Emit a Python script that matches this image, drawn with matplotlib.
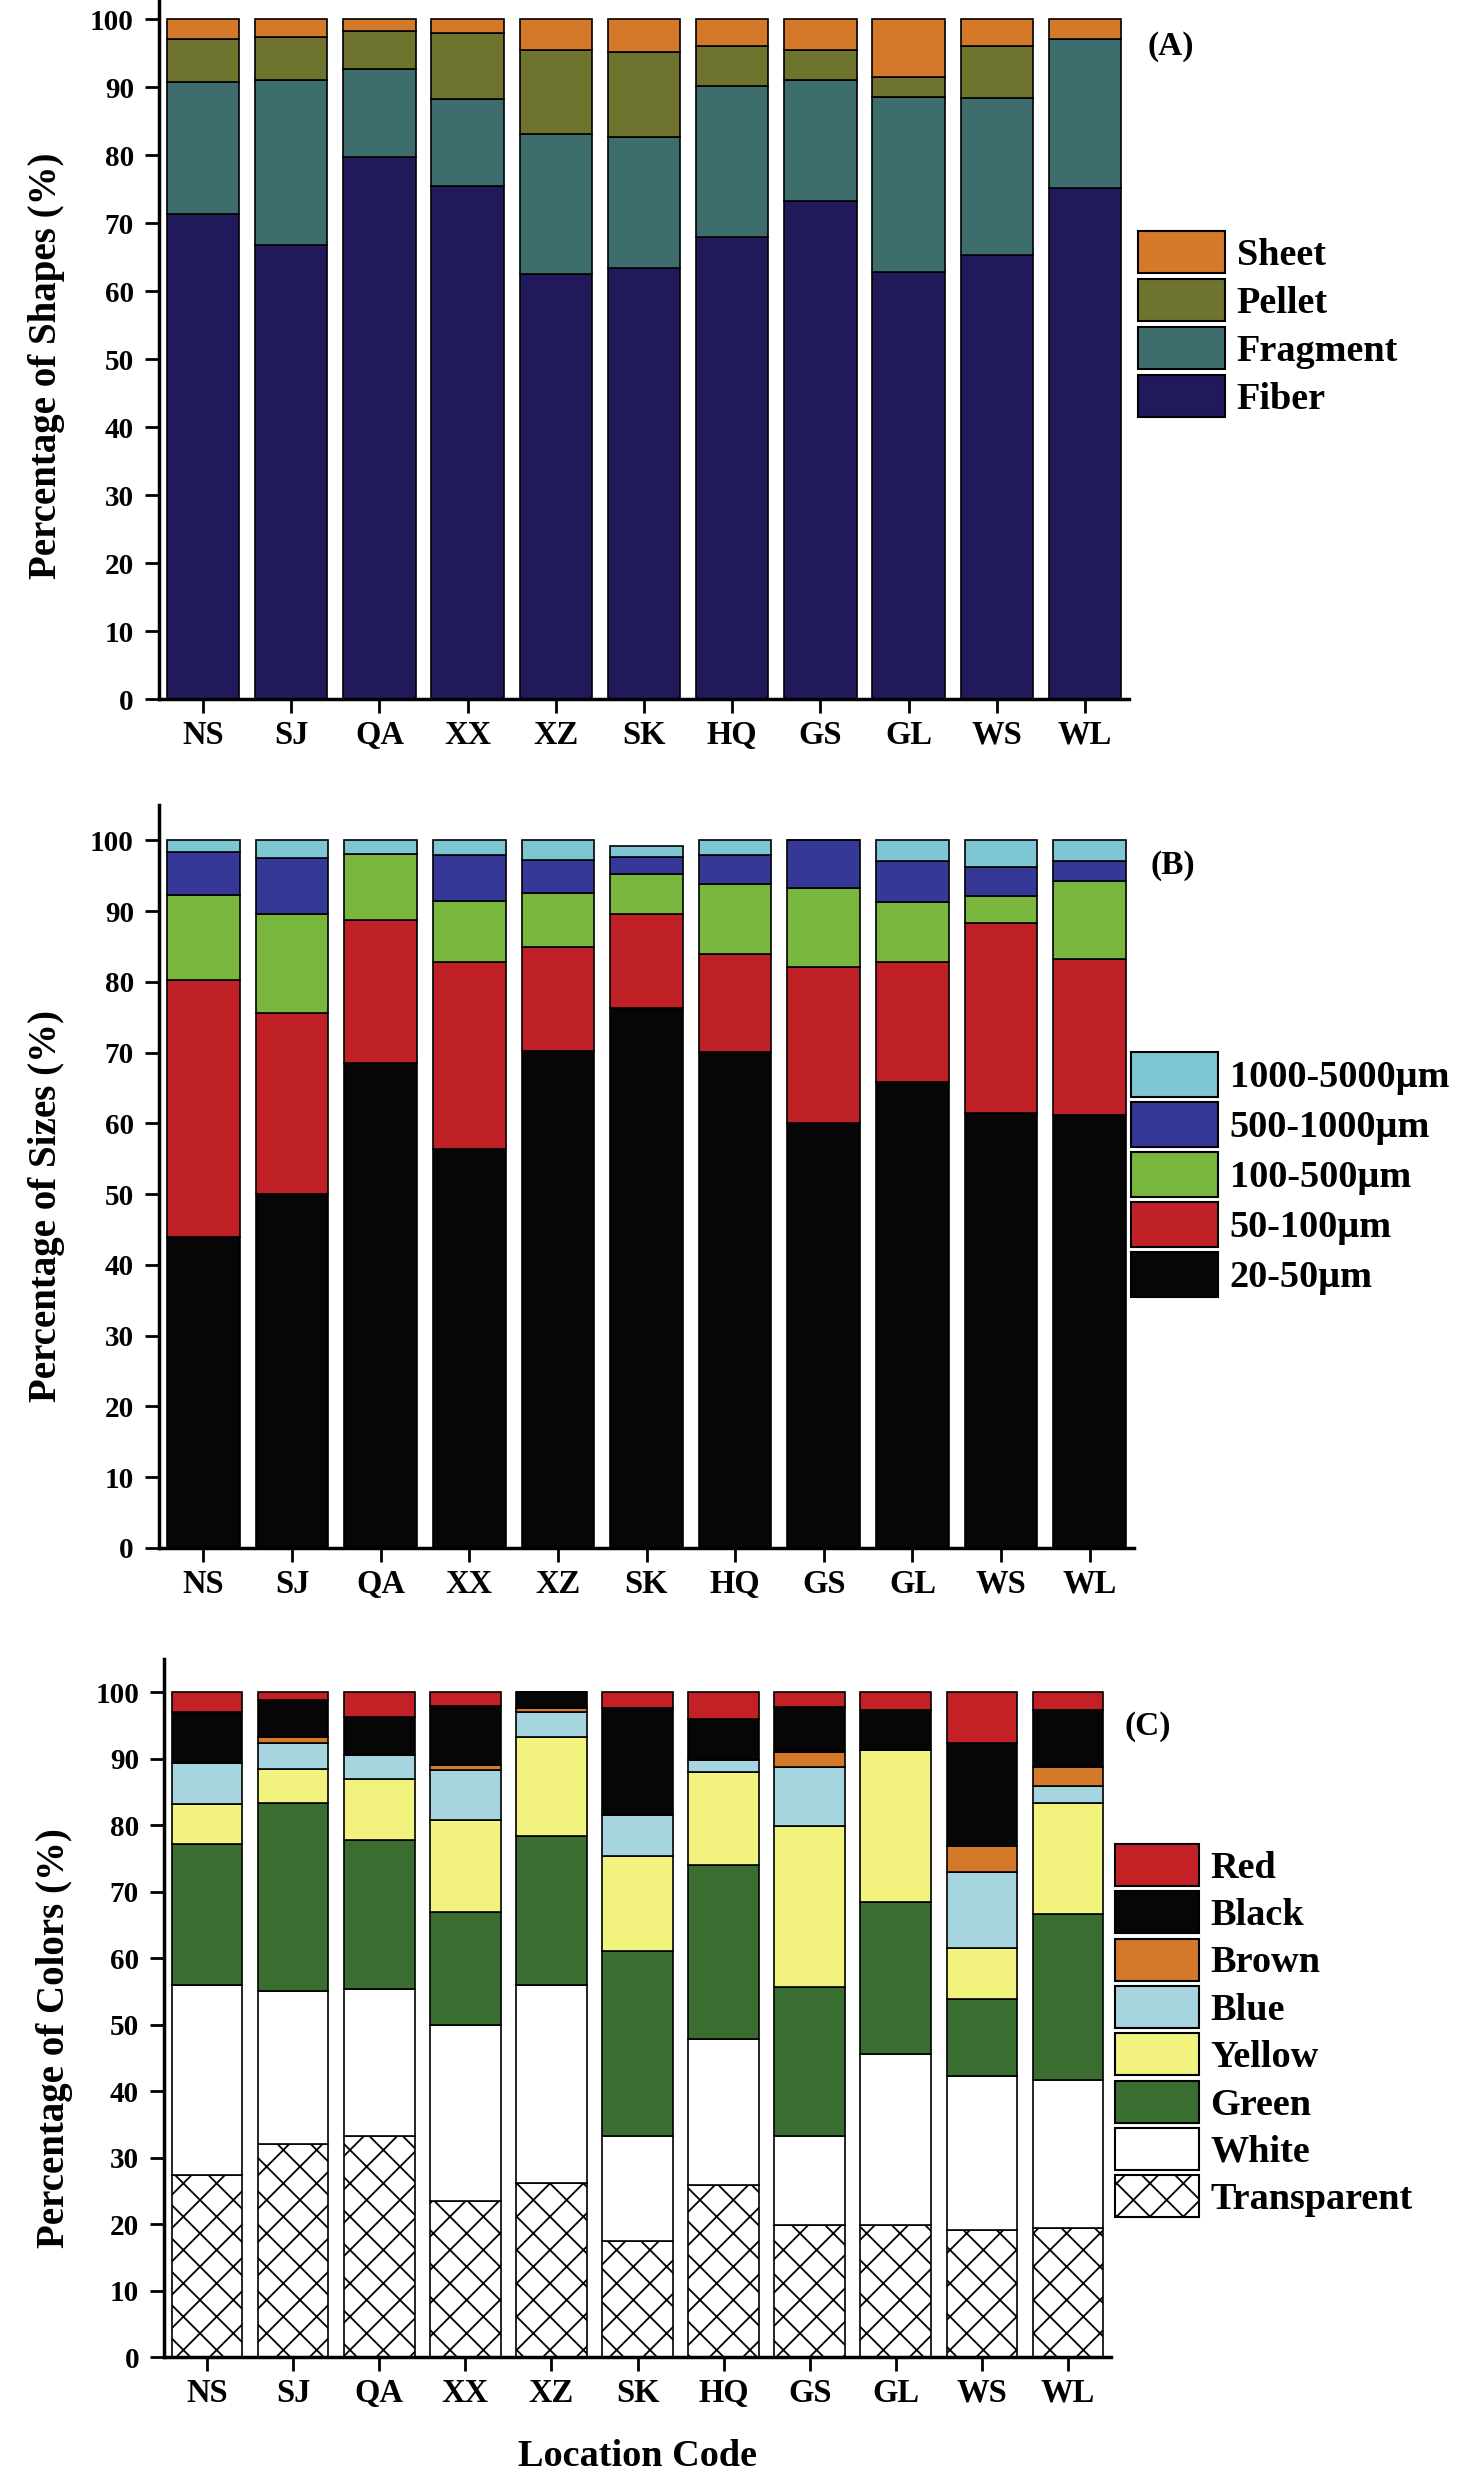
import matplotlib
matplotlib.use('Agg')
import matplotlib.pyplot as plt
from matplotlib.patches import Patch
import numpy as np

plt.rcParams['font.family'] = ['Liberation Serif', 'DejaVu Serif']
plt.rcParams['font.weight'] = 'bold'
plt.rcParams['hatch.linewidth'] = 1.3

sites = ['NS', 'SJ', 'QA', 'XX', 'XZ', 'SK', 'HQ', 'GS', 'GL', 'WS', 'WL']

# (A) shapes, bottom to top
shape_names = ['Fiber', 'Fragment', 'Pellet', 'Sheet']
fiber = [71.3, 66.7, 79.7, 75.5, 62.5, 63.4, 68.0, 73.3, 62.8, 65.3, 75.1]
fragment = [19.5, 24.3, 12.9, 12.8, 20.6, 19.2, 22.1, 17.8, 25.7, 23.1, 22.0]
pellet = [6.2, 6.4, 5.6, 9.6, 12.3, 12.6, 6.0, 4.4, 2.9, 7.7, 0.0]
sheet = [3.0, 2.6, 1.8, 2.1, 4.6, 4.8, 3.9, 4.5, 8.6, 3.9, 2.9]
shape_colors = ['#211a5a', '#3d6e6d', '#6e742d', '#d4782a']

# (B) sizes, bottom to top
size_names = ['20-50µm', '50-100µm', '100-500µm', '500-1000µm', '1000-5000µm']
s20_50 = [44.0, 50.0, 68.6, 56.4, 70.2, 76.3, 70.1, 60.1, 65.8, 61.5, 61.2]
s50_100 = [36.2, 25.6, 20.2, 26.4, 14.8, 13.3, 13.8, 22.0, 17.0, 26.8, 22.1]
s100_500 = [12.1, 14.0, 9.3, 8.6, 7.5, 5.6, 10.0, 11.2, 8.5, 3.9, 11.0]
s500_1000 = [6.1, 7.9, 0.0, 6.5, 4.7, 2.4, 4.1, 6.7, 5.8, 4.0, 2.8]
s1000_5000 = [1.6, 2.5, 1.9, 2.1, 2.8, 1.6, 2.0, 0.0, 2.9, 3.8, 2.9]
size_colors = ['#060606', '#c02126', '#78b63e', '#353896', '#7fc6d5']

# (C) colours, bottom to top
color_names = ['Transparent', 'White', 'Green', 'Yellow', 'Blue', 'Brown', 'Black', 'Red']
transparent = [27.4, 32.1, 33.3, 23.4, 26.2, 17.4, 25.9, 19.9, 19.9, 19.1, 19.4]
white = [28.5, 22.9, 22.1, 26.6, 29.8, 15.8, 22.0, 13.3, 25.7, 23.1, 22.2]
green = [21.3, 28.3, 22.4, 17.0, 22.4, 27.9, 26.1, 22.4, 22.9, 11.6, 25.1]
yellow = [6.0, 5.1, 9.1, 13.8, 14.9, 14.2, 14.0, 24.3, 22.8, 7.7, 16.6]
blue = [6.1, 3.9, 3.7, 7.5, 3.8, 6.3, 1.8, 8.9, 0.0, 11.5, 2.6]
brown = [0.0, 1.0, 0.0, 0.8, 0.6, 0.0, 0.0, 2.2, 0.0, 3.8, 2.9]
black = [7.8, 5.5, 5.7, 8.9, 2.3, 16.1, 6.2, 6.8, 6.0, 15.5, 8.5]
red = [2.9, 1.2, 3.7, 2.0, 0.0, 2.3, 4.0, 2.2, 2.7, 7.7, 2.7]
color_fills = ['white', 'white', '#3a6e30', '#f2f27e', '#a6d5e0', '#d4782a', '#060606', '#c42126']
color_hatches = ['x', None, None, None, None, None, None, None]

fig = plt.figure(figsize=(14.75, 24.81), dpi=100)
W, H = 1475.0, 2481.0


def make_axes(left, right, y0, y105):
    return fig.add_axes([left / W, 1 - y0 / H, (right - left) / W, (y0 - y105) / H])


def stacked(ax, layers, names, colors, hatches=None):
    x = np.arange(len(sites))
    bottom = np.zeros(len(sites))
    handles = []
    for i, (vals, name, col) in enumerate(zip(layers, names, colors)):
        h = hatches[i] if hatches else None
        ax.bar(x, vals, 0.82, bottom=bottom, color=col, edgecolor='black',
               linewidth=1.2, hatch=h)
        bottom += np.array(vals)
        handles.append(Patch(facecolor=col, edgecolor='black', linewidth=1.5, hatch=h, label=name))
    ax.set_xlim(-0.5, 10.5)
    ax.set_ylim(0, 105)
    ax.set_yticks(range(0, 101, 10))
    ax.set_xticks(x)
    ax.set_xticklabels(sites, fontsize=23.5, fontweight='bold')
    for lab in ax.get_yticklabels():
        lab.set_fontsize(21)
        lab.set_fontweight('bold')
    ax.tick_params(axis='both', direction='out', length=10, width=2)
    ax.tick_params(axis='x', pad=5)
    ax.tick_params(axis='y', pad=8)
    for s in ['top', 'right']:
        ax.spines[s].set_visible(False)
    for s in ['left', 'bottom']:
        ax.spines[s].set_linewidth(2.5)
    return handles[::-1]


def add_legend(ax, handles, x, y, hl, hh, ls):
    ax.legend(handles=handles, loc='upper left', bbox_to_anchor=(x / W, 1 - y / H),
              bbox_transform=fig.transFigure, frameon=False, borderpad=0,
              borderaxespad=0, handlelength=hl, handleheight=hh, labelspacing=ls,
              handletextpad=0.3, prop={'size': 27.5, 'weight': 'bold'})


axA = make_axes(159, 1129, 699, -15)
hA = stacked(axA, [fiber, fragment, pellet, sheet], shape_names, shape_colors)
add_legend(axA, hA, 1138, 231, 2.28, 1.315, 0.16)

axB = make_axes(159, 1134, 1548, 805)
hB = stacked(axB, [s20_50, s50_100, s100_500, s500_1000, s1000_5000], size_names, size_colors)
add_legend(axB, hB, 1131, 1052, 2.28, 1.436, 0.13)

axC = make_axes(164, 1111, 2357, 1659)
hC = stacked(axC, [transparent, white, green, yellow, blue, brown, black, red],
             color_names, color_fills, color_hatches)
add_legend(axC, hC, 1115, 1844, 2.2, 1.315, 0.14)

lab = dict(fontsize=28, fontweight='bold', rotation=90, ha='center', va='center')
fig.text(47 / W, 1 - 366 / H, 'Percentage of Shapes (%)', **lab)
fig.text(47 / W, 1 - 1206 / H, 'Percentage of Sizes (%)', **lab)
fig.text(55 / W, 1 - 2038 / H, 'Percentage of Colors (%)', **lab)
fig.text(638 / W, 1 - 2457 / H, 'Location Code', fontsize=27.5, fontweight='bold',
         ha='center', va='center')

for txt, px, py in [('(A)', 1171, 46), ('(B)', 1173, 866), ('(C)', 1148, 1726)]:
    fig.text(px / W, 1 - py / H, txt, fontsize=24, fontweight='bold', ha='center', va='center')

fig.savefig('out.png', dpi=100)
